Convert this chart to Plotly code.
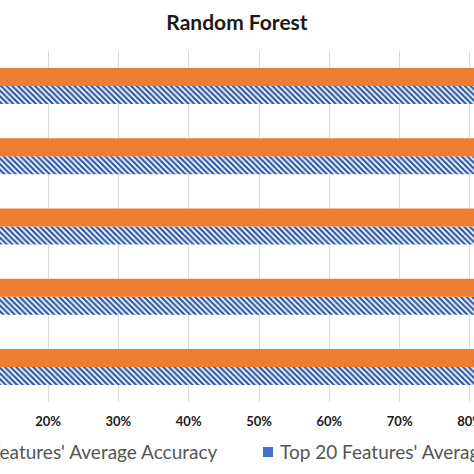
import plotly.graph_objects as go

# Datos (las etiquetas de categoria quedan fuera del recorte)
categorias = ["Dataset 1", "Dataset 2", "Dataset 3", "Dataset 4", "Dataset 5"]
todas = [0.97, 0.96, 0.98, 0.95, 0.97]
top20 = [0.96, 0.95, 0.97, 0.94, 0.96]
nombres = ["All Features' Average Accuracy", "Top 20 Features' Average Accuracy"]
ticks = [0.1, 0.2, 0.3, 0.4, 0.5, 0.6, 0.7, 0.8, 0.9, 1.0]

W, H = 474, 474
top, bottom = 51, 72
alto_plot = H - top - bottom

naranja = "#ED7D31"
azul = "#4472C4"
gris = "#555555"

fig = go.Figure()

# trazo azul primero para que quede debajo del naranja en cada grupo
fig.add_trace(go.Bar(
    y=categorias, x=top20, orientation="h", name=nombres[1],
    marker=dict(color="white", line=dict(width=0),
                pattern=dict(shape="\\", fgcolor="#2f5aa8", bgcolor="white",
                             fgopacity=1, size=4, solidity=0.55)),
))
fig.add_trace(go.Bar(
    y=categorias, x=todas, orientation="h", name=nombres[0],
    marker=dict(color=naranja, line=dict(width=0)),
))


def py(pix):
    # pixel vertical -> coordenada paper
    return (H - bottom - pix) / alto_plot


# leyenda dibujada a mano (queda cortada por los bordes)
annotations = [
    dict(text=nombres[0], x=220 / W, xanchor="right", y=py(451), yanchor="middle",
         xref="paper", yref="paper", showarrow=False,
         font=dict(size=19, color=gris, family="Lato")),
    dict(text=nombres[1], x=278 / W, xanchor="left", y=py(451), yanchor="middle",
         xref="paper", yref="paper", showarrow=False,
         font=dict(size=19, color=gris, family="Lato")),
]
shapes = [
    dict(type="rect", xref="paper", yref="paper",
         x0=-40 / W, x1=-30 / W, y0=py(457), y1=py(447),
         fillcolor=naranja, line=dict(width=0)),
    dict(type="rect", xref="paper", yref="paper",
         x0=263 / W, x1=273 / W, y0=py(457), y1=py(447),
         fillcolor=azul, line=dict(width=0)),
]

fig.update_layout(
    width=W, height=H,
    margin=dict(l=0, r=0, t=top, b=bottom, autoexpand=False),
    paper_bgcolor="white", plot_bgcolor="white",
    barmode="group", bargap=0.487, bargroupgap=0,
    showlegend=False,
    font=dict(family="Lato", color="#404040"),
    title=dict(text="<b>Random Forest</b>", x=0.5, xanchor="center",
               y=1 - 23 / H, yanchor="middle",
               font=dict(size=21, color="#1a1a1a", family="Lato")),
    xaxis=dict(range=[0.1317, 0.8057], tickvals=ticks, tickformat=".0%",
               showgrid=True, gridcolor="#d9d9d9", gridwidth=1,
               zeroline=False, showline=False, ticks="",
               ticklabelstandoff=10, ticklabeloverflow="allow",
               tickfont=dict(size=13, color="#1a1a1a", family="Lato", weight="bold")),
    yaxis=dict(automargin=False, showgrid=False, zeroline=False,
               showline=False, ticks="", range=[-0.5, 4.5]),
    annotations=annotations,
    shapes=shapes,
)

# quitar el margen por defecto del body para que la figura llene la ventana
fig.write_html("out.html", config={"displayModeBar": False},
               post_script="document.body.style.margin='0';document.body.style.overflow='hidden';")
